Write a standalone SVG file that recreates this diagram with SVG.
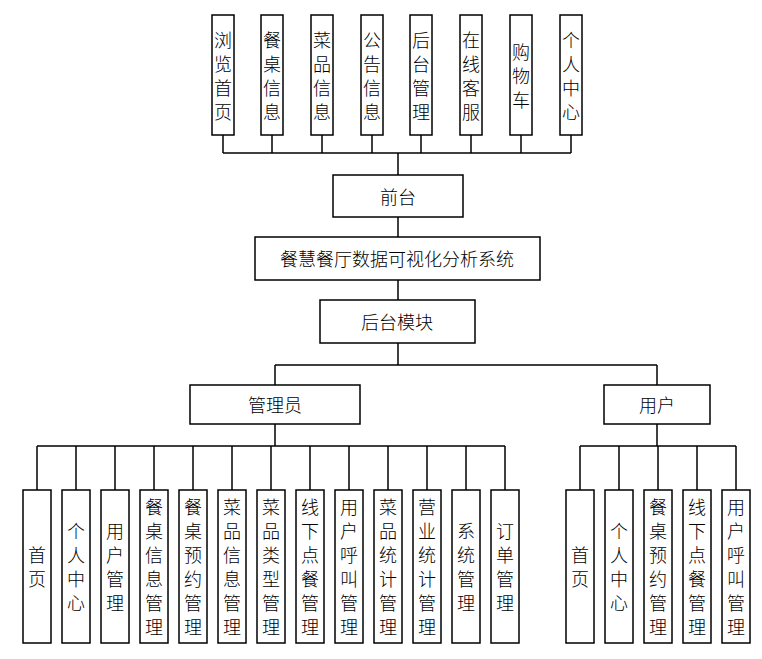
<svg xmlns="http://www.w3.org/2000/svg" width="762" height="659" viewBox="0 0 762 659">
<style>
rect{fill:#fff;stroke:#000;stroke-width:1.5}
rect.bg{stroke:none}
.c line{stroke:#000;stroke-width:1.5;fill:none}
text{font-family:"Noto Sans CJK SC","Noto Sans",sans-serif;font-weight:300;font-size:18px;text-anchor:middle;dominant-baseline:central;fill:#000}
</style>
<rect class="bg" width="762" height="659"/>
<g class="c">
<line x1="223" y1="153" x2="571" y2="153"/>
<line x1="223" y1="135" x2="223" y2="153"/><line x1="272" y1="135" x2="272" y2="153"/><line x1="322" y1="135" x2="322" y2="153"/><line x1="372" y1="135" x2="372" y2="153"/><line x1="421" y1="135" x2="421" y2="153"/><line x1="471" y1="135" x2="471" y2="153"/><line x1="521" y1="135" x2="521" y2="153"/><line x1="571" y1="135" x2="571" y2="153"/>
<line x1="398" y1="153" x2="398" y2="175"/>
<line x1="398" y1="217" x2="398" y2="237"/>
<line x1="398" y1="280" x2="398" y2="300"/>
<line x1="398" y1="343" x2="398" y2="365"/>
<line x1="275" y1="365" x2="657" y2="365"/>
<line x1="275" y1="365" x2="275" y2="385"/><line x1="657" y1="365" x2="657" y2="385"/>
<line x1="275" y1="424" x2="275" y2="446"/>
<line x1="37" y1="446" x2="505" y2="446"/>
<line x1="37" y1="446" x2="37" y2="490"/><line x1="76" y1="446" x2="76" y2="490"/><line x1="115" y1="446" x2="115" y2="490"/><line x1="154" y1="446" x2="154" y2="490"/><line x1="193" y1="446" x2="193" y2="490"/><line x1="232" y1="446" x2="232" y2="490"/><line x1="271" y1="446" x2="271" y2="490"/><line x1="310" y1="446" x2="310" y2="490"/><line x1="349" y1="446" x2="349" y2="490"/><line x1="388" y1="446" x2="388" y2="490"/><line x1="427" y1="446" x2="427" y2="490"/><line x1="466" y1="446" x2="466" y2="490"/><line x1="505" y1="446" x2="505" y2="490"/>
<line x1="657" y1="424" x2="657" y2="446"/>
<line x1="580" y1="446" x2="736" y2="446"/>
<line x1="580" y1="446" x2="580" y2="490"/><line x1="619" y1="446" x2="619" y2="490"/><line x1="658" y1="446" x2="658" y2="490"/><line x1="697" y1="446" x2="697" y2="490"/><line x1="736" y1="446" x2="736" y2="490"/>
</g>
<g id="t1"><rect x="212" y="15" width="22" height="120"/><text x="223" y="39">浏</text><text x="223" y="63">览</text><text x="223" y="87">首</text><text x="223" y="111">页</text></g>
<g id="t2"><rect x="261" y="15" width="22" height="120"/><text x="272" y="39">餐</text><text x="272" y="63">桌</text><text x="272" y="87">信</text><text x="272" y="111">息</text></g>
<g id="t3"><rect x="311" y="15" width="22" height="120"/><text x="322" y="39">菜</text><text x="322" y="63">品</text><text x="322" y="87">信</text><text x="322" y="111">息</text></g>
<g id="t4"><rect x="361" y="15" width="22" height="120"/><text x="372" y="39">公</text><text x="372" y="63">告</text><text x="372" y="87">信</text><text x="372" y="111">息</text></g>
<g id="t5"><rect x="410" y="15" width="22" height="120"/><text x="421" y="39">后</text><text x="421" y="63">台</text><text x="421" y="87">管</text><text x="421" y="111">理</text></g>
<g id="t6"><rect x="460" y="15" width="22" height="120"/><text x="471" y="39">在</text><text x="471" y="63">线</text><text x="471" y="87">客</text><text x="471" y="111">服</text></g>
<g id="t7"><rect x="510" y="15" width="22" height="120"/><text x="521" y="51">购</text><text x="521" y="75">物</text><text x="521" y="99">车</text></g>
<g id="t8"><rect x="560" y="15" width="22" height="120"/><text x="571" y="39">个</text><text x="571" y="63">人</text><text x="571" y="87">中</text><text x="571" y="111">心</text></g>
<g id="front"><rect x="333" y="175" width="130" height="42"/><text x="398" y="196">前台</text></g>
<g id="sys"><rect x="255" y="237" width="285" height="43"/><text x="397" y="258">餐慧餐厅数据可视化分析系统</text></g>
<g id="back"><rect x="320" y="300" width="155" height="43"/><text x="397" y="321">后台模块</text></g>
<g id="admin"><rect x="190" y="385" width="170" height="39"/><text x="275" y="404">管理员</text></g>
<g id="user"><rect x="604" y="385" width="106" height="39"/><text x="657" y="404">用户</text></g>
<g id="a1"><rect x="23" y="490" width="28" height="153"/><text x="37" y="554">首</text><text x="37" y="578">页</text></g>
<g id="a2"><rect x="62" y="490" width="28" height="153"/><text x="76" y="530">个</text><text x="76" y="554">人</text><text x="76" y="578">中</text><text x="76" y="602">心</text></g>
<g id="a3"><rect x="101" y="490" width="28" height="153"/><text x="115" y="530">用</text><text x="115" y="554">户</text><text x="115" y="578">管</text><text x="115" y="602">理</text></g>
<g id="a4"><rect x="140" y="490" width="28" height="153"/><text x="154" y="506">餐</text><text x="154" y="530">桌</text><text x="154" y="554">信</text><text x="154" y="578">息</text><text x="154" y="602">管</text><text x="154" y="626">理</text></g>
<g id="a5"><rect x="179" y="490" width="28" height="153"/><text x="193" y="506">餐</text><text x="193" y="530">桌</text><text x="193" y="554">预</text><text x="193" y="578">约</text><text x="193" y="602">管</text><text x="193" y="626">理</text></g>
<g id="a6"><rect x="218" y="490" width="28" height="153"/><text x="232" y="506">菜</text><text x="232" y="530">品</text><text x="232" y="554">信</text><text x="232" y="578">息</text><text x="232" y="602">管</text><text x="232" y="626">理</text></g>
<g id="a7"><rect x="257" y="490" width="28" height="153"/><text x="271" y="506">菜</text><text x="271" y="530">品</text><text x="271" y="554">类</text><text x="271" y="578">型</text><text x="271" y="602">管</text><text x="271" y="626">理</text></g>
<g id="a8"><rect x="296" y="490" width="28" height="153"/><text x="310" y="506">线</text><text x="310" y="530">下</text><text x="310" y="554">点</text><text x="310" y="578">餐</text><text x="310" y="602">管</text><text x="310" y="626">理</text></g>
<g id="a9"><rect x="335" y="490" width="28" height="153"/><text x="349" y="506">用</text><text x="349" y="530">户</text><text x="349" y="554">呼</text><text x="349" y="578">叫</text><text x="349" y="602">管</text><text x="349" y="626">理</text></g>
<g id="a10"><rect x="374" y="490" width="28" height="153"/><text x="388" y="506">菜</text><text x="388" y="530">品</text><text x="388" y="554">统</text><text x="388" y="578">计</text><text x="388" y="602">管</text><text x="388" y="626">理</text></g>
<g id="a11"><rect x="413" y="490" width="28" height="153"/><text x="427" y="506">营</text><text x="427" y="530">业</text><text x="427" y="554">统</text><text x="427" y="578">计</text><text x="427" y="602">管</text><text x="427" y="626">理</text></g>
<g id="a12"><rect x="452" y="490" width="28" height="153"/><text x="466" y="530">系</text><text x="466" y="554">统</text><text x="466" y="578">管</text><text x="466" y="602">理</text></g>
<g id="a13"><rect x="491" y="490" width="28" height="153"/><text x="505" y="530">订</text><text x="505" y="554">单</text><text x="505" y="578">管</text><text x="505" y="602">理</text></g>
<g id="u1"><rect x="566" y="490" width="28" height="153"/><text x="580" y="554">首</text><text x="580" y="578">页</text></g>
<g id="u2"><rect x="605" y="490" width="28" height="153"/><text x="619" y="530">个</text><text x="619" y="554">人</text><text x="619" y="578">中</text><text x="619" y="602">心</text></g>
<g id="u3"><rect x="644" y="490" width="28" height="153"/><text x="658" y="506">餐</text><text x="658" y="530">桌</text><text x="658" y="554">预</text><text x="658" y="578">约</text><text x="658" y="602">管</text><text x="658" y="626">理</text></g>
<g id="u4"><rect x="683" y="490" width="28" height="153"/><text x="697" y="506">线</text><text x="697" y="530">下</text><text x="697" y="554">点</text><text x="697" y="578">餐</text><text x="697" y="602">管</text><text x="697" y="626">理</text></g>
<g id="u5"><rect x="722" y="490" width="28" height="153"/><text x="736" y="506">用</text><text x="736" y="530">户</text><text x="736" y="554">呼</text><text x="736" y="578">叫</text><text x="736" y="602">管</text><text x="736" y="626">理</text></g>
</svg>
